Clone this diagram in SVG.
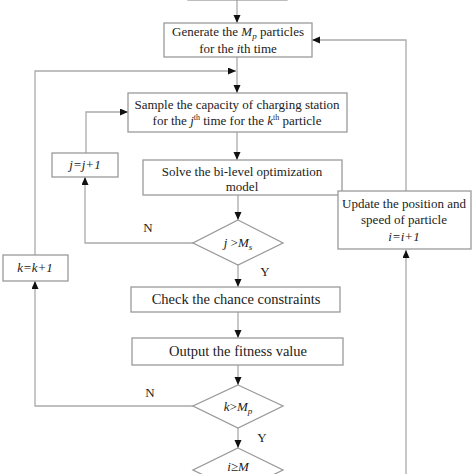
<svg xmlns="http://www.w3.org/2000/svg" width="474" height="474" viewBox="0 0 474 474">
<defs>
<marker id="ah" markerUnits="userSpaceOnUse" markerWidth="9" markerHeight="8" refX="8" refY="3.5" orient="auto">
<path d="M0,0 L8,3.5 L0,7 z" fill="#111"/>
</marker>
<style>
.box{fill:#fff;stroke:#9a9a9a;stroke-width:1.3}
.ln{fill:none;stroke:#aaa;stroke-width:1.3}
text{font-family:"Liberation Serif","Times New Roman",serif;font-size:13px;fill:#222;text-anchor:middle}
.big{font-size:14.5px}
.it{font-style:italic}
</style>
</defs>
<rect width="474" height="474" fill="#fff"/>
<g id="connectors">
<path class="ln" d="M237,0 V23" marker-end="url(#ah)"/>
<path class="ln" d="M237,57 V93" marker-end="url(#ah)"/>
<path class="ln" d="M35,255 V71 H236" marker-end="url(#ah)"/>
<path class="ln" d="M86,153 V112 H128" marker-end="url(#ah)"/>
<path class="ln" d="M237,132 V160" marker-end="url(#ah)"/>
<path class="ln" d="M238,195 V220" marker-end="url(#ah)"/>
<path class="ln" d="M193,243 H85 V177" marker-end="url(#ah)"/>
<path class="ln" d="M238,264 V287" marker-end="url(#ah)"/>
<path class="ln" d="M238,312 V338" marker-end="url(#ah)"/>
<path class="ln" d="M238,365 V385" marker-end="url(#ah)"/>
<path class="ln" d="M193,406 H35 V281" marker-end="url(#ah)"/>
<path class="ln" d="M238,428 V448" marker-end="url(#ah)"/>
<path class="ln" d="M406,474 V250" marker-end="url(#ah)"/>
<path class="ln" d="M406,191 V40 H312" marker-end="url(#ah)"/>
<text x="148" y="232">N</text>
<text x="265" y="276">Y</text>
<text x="150" y="397">N</text>
<text x="262" y="442">Y</text>
</g>
<g id="top"><rect class="box" x="188" y="-10" width="99" height="10"/></g>
<g id="generate">
<rect class="box" x="164" y="23" width="148" height="34"/>
<text x="238" y="36">Generate the <tspan class="it">M</tspan><tspan class="it" font-size="9" dy="2.5">p</tspan><tspan dy="-2.5"> particles</tspan></text>
<text x="238" y="53">for the <tspan class="it">i</tspan>th time</text>
</g>
<g id="sample">
<rect class="box" x="128" y="93" width="219" height="39"/>
<text x="237" y="109">Sample the capacity of charging station</text>
<text x="237" y="125">for the <tspan class="it">j</tspan><tspan font-size="8" dy="-5">th</tspan><tspan dy="5"> time for the </tspan><tspan class="it">k</tspan><tspan font-size="8" dy="-5">th</tspan><tspan dy="5"> particle</tspan></text>
</g>
<g id="jinc">
<rect class="box" x="52" y="153" width="66" height="24"/>
<text x="85" y="169" class="it">j=j+1</text>
</g>
<g id="solve">
<rect class="box" x="143" y="160" width="199" height="35"/>
<text x="242" y="176">Solve the bi-level optimization</text>
<text x="242" y="191">model</text>
</g>
<g id="jcheck">
<polygon class="box" points="238,220 283,243 238,265 193,243"/>
<text x="238" y="247"><tspan class="it">j</tspan> &gt;<tspan class="it">M</tspan><tspan class="it" font-size="9" dy="3">s</tspan></text>
</g>
<g id="update">
<rect class="box" x="338" y="191" width="133" height="58"/>
<text x="404" y="208">Update the position and</text>
<text x="404" y="224">speed of particle</text>
<text x="404" y="241" class="it">i=i+1</text>
</g>
<g id="kinc">
<rect class="box" x="3" y="255" width="65" height="26"/>
<text x="35" y="272" class="it">k=k+1</text>
</g>
<g id="check">
<rect class="box" x="131" y="287" width="209" height="25"/>
<text x="236" y="304" class="big">Check the chance constraints</text>
</g>
<g id="output">
<rect class="box" x="132" y="338" width="211" height="27"/>
<text x="238" y="356" class="big">Output the fitness value</text>
</g>
<g id="kcheck">
<polygon class="box" points="238,385 283,406 238,428 193,406"/>
<text x="238" y="411"><tspan class="it">k</tspan>&gt;<tspan class="it">M</tspan><tspan class="it" font-size="9" dy="3">p</tspan></text>
</g>
<g id="icheck">
<polygon class="box" points="238,448 283,470 238,492 193,470"/>
<text x="238" y="471" class="it" font-size="12">i≥M</text>
</g>
</svg>
